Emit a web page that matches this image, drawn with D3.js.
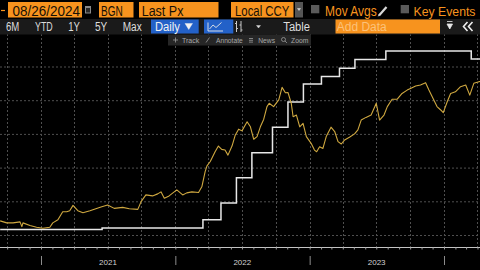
<!DOCTYPE html>
<html>
<head>
<meta charset="utf-8">
<script src="https://cdn.jsdelivr.net/npm/d3@7"></script>
<style>
  html, body { margin: 0; padding: 0; background: #000; }
  svg { display: block; font-family: "Liberation Sans", Arial, sans-serif; }
</style>
</head>
<body>
<div id="chart"></div>
<script>
// Last Px series (gold)
const pxDates = ["2020-09-12","2020-09-30","2020-10-17","2020-11-05","2020-11-10","2020-11-13","2020-12-02","2020-12-20","2021-01-06","2021-01-25",
  "2021-02-02","2021-02-16","2021-03-01","2021-03-12","2021-03-20","2021-03-29","2021-04-11","2021-04-25","2021-05-14","2021-05-30",
  "2021-06-13","2021-07-01","2021-07-19","2021-08-11","2021-08-29","2021-09-21","2021-09-30","2021-10-13","2021-10-31","2021-11-14",
  "2021-11-23","2021-12-02","2021-12-15","2022-01-05","2022-01-21","2022-02-01","2022-02-15","2022-03-05","2022-03-14","2022-03-23",
  "2022-03-28","2022-04-06","2022-04-19","2022-04-28","2022-05-07","2022-05-16","2022-05-24","2022-06-04","2022-06-13","2022-06-22",
  "2022-07-01","2022-07-15","2022-07-24","2022-08-02","2022-08-11","2022-08-20","2022-08-29","2022-09-07","2022-09-13","2022-09-25",
  "2022-10-09","2022-10-18","2022-10-27","2022-11-03","2022-11-12","2022-11-17","2022-11-26","2022-12-05","2022-12-14","2022-12-23",
  "2023-01-05","2023-01-14","2023-01-20","2023-01-28","2023-02-06","2023-02-15","2023-02-28","2023-03-10","2023-03-19","2023-03-28",
  "2023-04-06","2023-04-19","2023-05-03","2023-05-12","2023-05-21","2023-06-03","2023-06-17","2023-07-01","2023-07-10","2023-07-22",
  "2023-07-31","2023-08-13","2023-08-27","2023-09-09","2023-09-23","2023-10-02","2023-10-16","2023-10-29","2023-11-12","2023-11-21",
  "2023-11-30","2023-12-13","2023-12-23","2023-12-30","2024-01-10","2024-01-19","2024-02-01","2024-02-15","2024-02-29","2024-03-11",
  "2024-03-22","2024-04-05","2024-04-12"]
const pxValues = [0.42,0.36,0.36,0.39,0.25,0.36,0.28,0.23,0.20,0.23,
  0.36,0.45,0.69,0.69,0.72,0.88,0.72,0.66,0.72,0.78,
  0.83,0.89,0.79,0.82,0.78,0.76,0.99,1.19,1.16,1.22,
  1.28,1.09,1.16,1.34,1.19,1.25,1.28,1.26,1.43,1.88,
  2.05,2.18,2.47,2.64,2.54,2.52,2.37,2.64,2.97,3.14,
  3.09,3.36,3.21,2.84,2.92,3.21,3.43,3.81,3.91,3.81,
  4.01,4.38,4.22,4.23,3.91,3.51,3.56,3.21,3.31,2.92,
  2.72,2.52,2.47,2.62,2.57,2.92,3.20,3.07,2.77,2.70,
  2.82,2.90,3.00,3.12,3.41,3.49,3.56,3.91,3.41,3.56,
  3.81,4.03,4.03,4.20,4.30,4.35,4.42,4.45,4.52,4.30,
  4.10,3.81,3.71,3.63,3.96,4.20,4.25,4.40,4.45,4.15,
  4.50,4.55,4.56]

// step series (white)
const stepDates = ["2020-09-12","2021-06-16","2022-03-17","2022-05-05","2022-06-16","2022-07-28","2022-09-22","2022-11-03",
  "2022-12-15","2023-02-02","2023-03-23","2023-05-04","2023-07-27","2024-03-15","2024-04-15"]
const stepValues = [0.16,0.21,0.45,0.95,1.70,2.44,3.20,3.95,4.48,4.70,4.95,5.21,5.46,5.22,5.22]

const gridValues = [0, 1, 2, 3, 4, 5, 6]
const yearLabels = ["2021", "2022", "2023"]

let W = 480, H = 270
let axisY = 247
let parse = d3.timeParse("%Y-%m-%d")

let px = pxDates.map((d, i) => ({date: parse(d), value: pxValues[i]}))
let steps = stepDates.map((d, i) => ({date: parse(d), value: stepValues[i]}))

let svg = d3.select("#chart").append("svg")
  .attr("width", W)
  .attr("height", H)

svg.append("rect").attr("width", W).attr("height", H).attr("fill", "#000")

// SCALES
let xScale = d3.scaleTime()
  .domain([new Date(2021, 0, 1), new Date(2024, 0, 1)])
  .range([41, 444])

let yScale = d3.scaleLinear()
  .domain([0, 5])
  .range([235, 66.5])

// GRID
let grid = svg.append("g").attr("class", "grid")
  .attr("stroke", "#4f4f4f")
  .attr("stroke-dasharray", "2,2")

grid.selectAll(".hgrid")
  .data(gridValues)
  .enter().append("line")
  .attr("x1", 0).attr("x2", W)
  .attr("y1", d => yScale(d) + 0.5)
  .attr("y2", d => yScale(d) + 0.5)

grid.selectAll(".vgrid")
  .data(d3.timeMonths(new Date(2020, 9, 1), new Date(2024, 3, 2), 3))
  .enter().append("line")
  .attr("x1", d => Math.round(xScale(d)) + 0.5)
  .attr("x2", d => Math.round(xScale(d)) + 0.5)
  .attr("y1", 30).attr("y2", axisY)

// X AXIS
svg.append("line")
  .attr("x1", 0).attr("x2", W)
  .attr("y1", axisY + 0.5).attr("y2", axisY + 0.5)
  .attr("stroke", "#c4c4c4")

let monthAxis = d3.axisBottom(xScale)
  .tickValues(d3.timeMonths(new Date(2020, 8, 1), new Date(2024, 4, 1)))
  .tickSize(2)
  .tickFormat("")

svg.append("g")
  .attr("class", "x axis")
  .attr("transform", "translate(0," + (axisY + 0.5) + ")")
  .call(monthAxis)
  .call(g => g.select(".domain").remove())
  .selectAll("line").attr("stroke", "#9a9a9a")

let yearAxis = d3.axisBottom(xScale)
  .tickValues([2021, 2022, 2023, 2024].map(y => new Date(y, 0, 1)))
  .tickSize(9)
  .tickFormat("")

svg.append("g")
  .attr("class", "year axis")
  .attr("transform", "translate(0,256)")
  .call(yearAxis)
  .call(g => g.select(".domain").remove())
  .selectAll("line").attr("stroke", "#8c8c8c")

svg.selectAll(".year-label")
  .data(yearLabels)
  .enter().append("text")
  .attr("class", "year-label")
  .attr("x", d => xScale(new Date(+d, 6, 2)))
  .attr("y", 264.5)
  .attr("text-anchor", "middle")
  .attr("font-size", 8)
  .attr("fill", "#d2d2d2")
  .text(d => d)

// LINES
let line = d3.line()
  .x(d => xScale(d.date))
  .y(d => yScale(d.value))

svg.append("path")
  .datum(steps)
  .attr("fill", "none")
  .attr("stroke", "#e8e8e8")
  .attr("stroke-width", 1.5)
  .attr("d", line.curve(d3.curveStepAfter))

svg.append("path")
  .datum(px)
  .attr("fill", "none")
  .attr("stroke", "#cfa840")
  .attr("stroke-width", 1.1)
  .attr("stroke-linejoin", "round")
  .attr("d", line.curve(d3.curveLinear))

// TOOLBAR
let bar = svg.append("g").attr("class", "toolbar")
let orange = "#f7931e", blue = "#2361c8"

function box(x, y, w, h, fill) {
  bar.append("rect").attr("x", x).attr("y", y).attr("width", w).attr("height", h).attr("fill", fill)
}
function label(t, x, y, w, size, fill) {
  bar.append("text")
    .attr("x", x).attr("y", y)
    .attr("font-size", size)
    .attr("fill", fill)
    .attr("textLength", w)
    .attr("lengthAdjust", "spacingAndGlyphs")
    .text(t)
}
function path(d, stroke, width, fill) {
  bar.append("path").attr("d", d)
    .attr("fill", fill || "none")
    .attr("stroke", stroke)
    .attr("stroke-width", width)
}

box(0, 0, W, 19, "#000")
box(0, 19, W, 15.5, "#1a1a1a")

// row 1
path("M1,10.5H5", orange, 1.2)
box(8, 2, 74, 15.5, orange)
label("08/26/2024", 12.5, 16, 67.5, 14, "#161006")
box(85, 6, 6, 7.5, "#8a8a8a")
box(86, 8, 4, 4.5, "#2a2a2a")
box(99, 2, 34.5, 15.5, orange)
label("BGN", 101, 16, 21.7, 14, "#161006")
box(139, 2, 79.5, 15.5, orange)
label("Last Px", 141.7, 16, 41.7, 14, "#161006")
box(231, 2, 62.5, 15.5, orange)
label("Local CCY", 235, 16, 54.3, 14, "#161006")
box(295, 2, 8, 15.5, "#555")
path("M297.5,8.5L300.5,8.5L299,10.5Z", "#ddd", 0.5, "#ddd")
box(311, 5, 8.3, 8.3, "#5a5a5a")
label("Mov Avgs", 325, 16, 51.7, 14, orange)
path("M379,15.5L386.5,7", "#d8d8d8", 2.2)
path("M378.3,16.3L379.5,14.2", "#d8d8d8", 1)
box(400.7, 5, 8.3, 8.3, "#5a5a5a")
label("Key Events", 413.5, 15.5, 62, 12.5, orange)

// row 2
let rangeLabels = [["6M", 6, 13.3], ["YTD", 35, 17.7], ["1Y", 68.3, 11.7], ["5Y", 95, 12.3], ["Max", 122.7, 19]]
rangeLabels.forEach(r => label(r[0], r[1], 30.5, r[2], 12.5, "#dedede"))
box(151, 19.5, 47.7, 14, blue)
label("Daily", 155, 30.5, 25, 12.5, "#f2f2f2")
path("M185,23.5H192.5L188.75,29.5Z", "#f2f2f2", 0.4, "#f2f2f2")
box(204, 19.5, 29.3, 14, blue)
path("M208,22.5V31H223", "#e8e8e8", 0.9)
path("M209.5,29L213,25L216,27.5L221.5,22.5", "#e8e8e8", 0.9)
path("M236.5,21V32M235,23.5H236.5M236.5,28.5H238M241,21V32M239.5,25H241M241,30H242.5", "#c8c8c8", 1)
path("M256.5,25.5H260.5L258.5,28Z", "#dcdcdc", 0.4, "#dcdcdc")
label("Table", 283.3, 30.5, 26.7, 12.5, "#dedede")
box(335.5, 19.5, 104.5, 14, orange)
label("Add Data", 336.8, 30.5, 50, 12.5, "#fcc27a")
path("M447,21.5H452.5M447,24H452.5L449.75,29Z", "#e8e8e8", 0.8, "#e8e8e8")
path("M467.5,22L463.5,26.5L467.5,31M472.5,22L468.5,26.5L472.5,31", "#ececec", 1.6)

// row 3 overlay
box(168, 34.5, 143, 11, "#262626")
path("M175.5,37.5V42.5M173,40H178", "#9a9a9a", 0.8)
label("Track", 182, 42.5, 17.3, 7.5, "#a8a8a8")
path("M206,42.5L209.5,37.5", "#9a9a9a", 0.8)
label("Annotate", 216, 42.5, 26.7, 7.5, "#a8a8a8")
path("M249,38.5H253M249,40.3H253M249,42.1H253", "#9a9a9a", 0.8)
label("News", 258.3, 42.5, 16.7, 7.5, "#a8a8a8")
bar.append("circle").attr("cx", 283.5).attr("cy", 39.5).attr("r", 2).attr("fill", "none").attr("stroke", "#9a9a9a").attr("stroke-width", 0.8)
path("M285,41L287,43", "#9a9a9a", 0.8)
label("Zoom", 291, 42.5, 17.3, 7.5, "#a8a8a8")
</script>
</body>
</html>
